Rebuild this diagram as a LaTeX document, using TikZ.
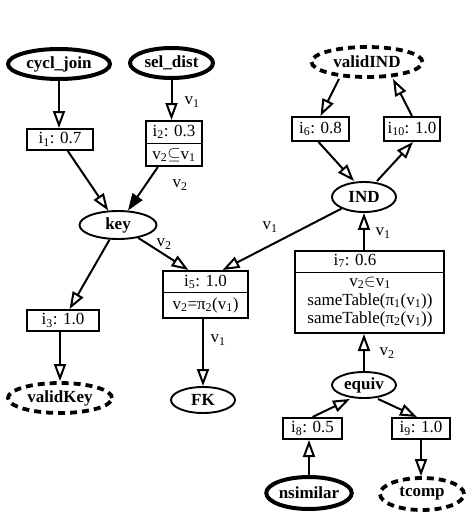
\documentclass[tikz,border=0pt]{standalone}
\usepackage{fontspec}
\setmainfont{Liberation Serif}
\usetikzlibrary{shapes.geometric,arrows.meta}
\newcommand{\sbs}[1]{\textsubscript{#1}}
\begin{document}
\begin{tikzpicture}[x=1pt,y=-1pt,
  every node/.style={font=\fontsize{17}{19}\selectfont},
  ell/.style={draw,ellipse,inner sep=0pt,line width=1.9pt,font=\fontsize{17}{19}\selectfont\bfseries},
  thk/.style={line width=4pt},
  dsh/.style={line width=3.8pt,dash pattern=on 7pt off 5pt},
  bx/.style={draw,rectangle,line width=2pt,inner sep=0pt},
  txt/.style={inner sep=0pt},
  lab/.style={inner sep=0pt},
  divl/.style={line width=1pt},
  oarr/.style={line width=2pt,-{Triangle[open,length=17pt,width=12pt,line width=2pt]}},
  farr/.style={line width=2pt,-{Triangle[length=17pt,width=12pt]}}
]
\useasboundingbox (0,0) rectangle (474,528);

% ellipses
\node[ell,thk,minimum width=102,minimum height=30] (cycl) at (59,64) {cycl\_join};
\node[ell,thk,minimum width=83,minimum height=30] (sel) at (171.5,63) {sel\_dist};
\node[ell,dsh,minimum width=111,minimum height=30] (validIND) at (367,62) {validIND};
\node[ell,minimum width=77,minimum height=28] (key) at (118,225) {key};
\node[ell,minimum width=64,minimum height=30] (IND) at (364,197) {IND};
\node[ell,dsh,minimum width=104,minimum height=30] (validKey) at (60,398) {validKey};
\node[ell,minimum width=64,minimum height=26] (FK) at (203,400) {FK};
\node[ell,minimum width=64,minimum height=26] (equiv) at (364,385) {equiv};
\node[ell,thk,minimum width=82,minimum height=32] (nsimilar) at (309,493) {nsimilar};
\node[ell,dsh,minimum width=84,minimum height=32] (tcomp) at (422,494) {tcomp};

% boxes
\node[bx,minimum width=66,minimum height=21] (i1) at (60,139.5) {i\sbs{1}: 0.7};
\node[bx,minimum width=56,minimum height=45] (i2) at (174,143.5) {};
\node[txt] (i2a) at (174,132) {i\sbs{2}: 0.3};
\node[txt] (i2b) at (174,155) {v\sbs{2}$\subseteq$v\sbs{1}};
\draw[divl] (i2.west |- 0,143) -- (i2.east |- 0,143);

\node[bx,minimum width=72,minimum height=21] (i3) at (63,320.5) {i\sbs{3}: 1.0};

\node[bx,minimum width=85,minimum height=47] (i5) at (205.5,294.5) {};
\node[txt] (i5a) at (205.5,282) {i\sbs{5}: 1.0};
\node[txt] (i5b) at (205.5,305) {v\sbs{2}=π\sbs{2}(v\sbs{1})};
\draw[divl] (i5.west |- 0,292) -- (i5.east |- 0,292);

\node[bx,minimum width=57,minimum height=24] (i6) at (320.5,129) {i\sbs{6}: 0.8};
\node[bx,minimum width=56,minimum height=24] (i10) at (412,129) {i\sbs{10}: 1.0};

\node[bx,minimum width=149,minimum height=82] (i7) at (369.5,292) {};
\node[txt] (i7a) at (355,261) {i\sbs{7}: 0.6};
\node[txt] (i7b) at (370,283) {v\sbs{2}$\in$v\sbs{1}};
\node[txt] (i7c) at (370,301) {sameTable(π\sbs{1}(v\sbs{1}))};
\node[txt] (i7d) at (370,319) {sameTable(π\sbs{2}(v\sbs{1}))};
\draw[divl] (i7.west |- 0,272) -- (i7.east |- 0,272);

\node[bx,minimum width=59,minimum height=21] (i8) at (312.5,428.5) {i\sbs{8}: 0.5};
\node[bx,minimum width=58,minimum height=21] (i9) at (421,428.5) {i\sbs{9}: 1.0};

% edges
\draw[oarr] (cycl) -- (cycl.south |- i1.north);
\draw[oarr] (sel) -- (sel.south |- i2.north) node[lab] (l1) at (192,102) {v\sbs{1}};
\draw[oarr] (i1) -- (key);
\draw[farr] (i2) -- (key) node[lab] (l2) at (180,185) {v\sbs{2}};
\draw[oarr] (key) -- (i3);
\draw[oarr] (key) -- ([xshift=-17pt]i5.north) node[lab] (l3) at (164,244) {v\sbs{2}};
\draw[oarr] (IND) -- ([xshift=17pt]i5.north) node[lab] (l4) at (270,227) {v\sbs{1}};
\draw[oarr] (i3.south -| validKey.north) -- (validKey.north);
\draw[oarr] (i5.south -| FK.north) -- (FK.north) node[lab] (l5) at (218,340) {v\sbs{1}};
\draw[oarr] ([xshift=-28pt]validIND.south) -- (i6.north);
\draw[oarr] (i10.north) -- ([xshift=26pt]validIND.south);
\draw[oarr] ([xshift=-2pt]i6.south) -- ([xshift=-10pt]IND.north);
\draw[oarr] ([xshift=13pt]IND.north) -- ([xshift=1pt]i10.south);
\draw[oarr] (i7.north -| IND.south) -- (IND.south) node[lab] (l6) at (383,233) {v\sbs{1}};
\draw[oarr] (equiv.north) -- (equiv.north |- i7.south) node[lab] (l7) at (387,353) {v\sbs{2}};
\draw[oarr] (i8.north) -- ([xshift=-14pt]equiv.south);
\draw[oarr] ([xshift=14pt]equiv.south) -- ([xshift=-4pt]i9.north);
\draw[oarr] (nsimilar.north) -- (nsimilar.north |- i8.south);
\draw[oarr] (i9.south) -- (i9.south |- tcomp.north);
\end{tikzpicture}
\end{document}
